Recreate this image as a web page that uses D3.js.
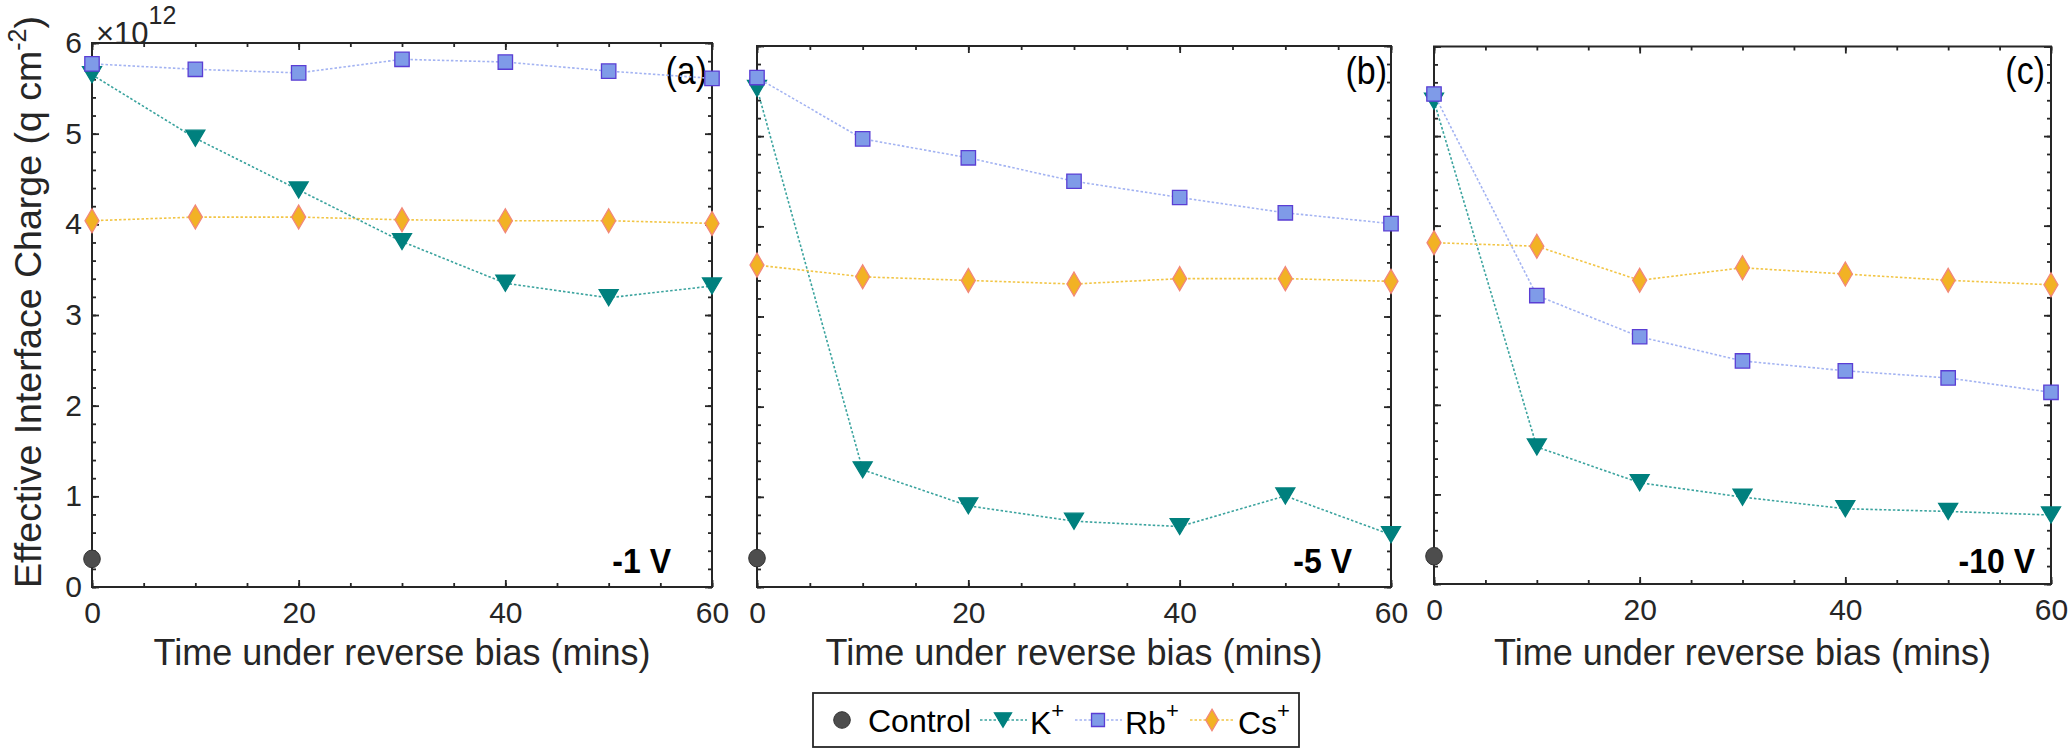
<!DOCTYPE html>
<html>
<head>
<meta charset="UTF-8">
<script src="https://d3js.org/d3.v7.min.js"></script>
<style>
    html, body { margin:0; padding:0; background:#fff; }
    text { font-family: "Liberation Sans", Arial, sans-serif; fill:#262626; }
</style>
</head>
<body>
<svg id="chart" width="2070" height="749"></svg>
<script>
// data (charge in units of 1e12 q cm^-2)
const times = [0, 10, 20, 30, 40, 50, 60];
const controlVals = [0.31, 0.32, 0.31];
const kVals = [
    [5.65, 4.95, 4.38, 3.81, 3.35, 3.19, 3.32],
    [5.53, 1.30, 0.90, 0.73, 0.67, 1.01, 0.58],
    [5.39, 1.53, 1.13, 0.97, 0.84, 0.81, 0.77]
];
const rbVals = [
    [5.77, 5.71, 5.67, 5.82, 5.79, 5.69, 5.61],
    [5.65, 4.97, 4.76, 4.50, 4.32, 4.15, 4.03],
    [5.47, 3.22, 2.76, 2.49, 2.38, 2.30, 2.14]
];
const csVals = [
    [4.04, 4.08, 4.08, 4.05, 4.04, 4.04, 4.01],
    [3.57, 3.44, 3.40, 3.36, 3.42, 3.42, 3.39],
    [3.81, 3.77, 3.39, 3.53, 3.46, 3.39, 3.34]
];
const panelLabels = ["(a)", "(b)", "(c)"];
const biasLabels = ["-1 V", "-5 V", "-10 V"];
const xTicks = [0, 20, 40, 60];
const xMinor = d3.range(0, 61, 5);
const yTicks = [0, 1, 2, 3, 4, 5, 6];
const yMinor = d3.range(0, 30.5, 1).map(d => d / 5);

// layout
const panels = [
    {x0: 92,   x1: 712,  y0: 43,   y1: 587, biasX: 671,  labelX: 707},
    {x0: 757,  x1: 1391, y0: 46,   y1: 587, biasX: 1352, labelX: 1387},
    {x0: 1434, x1: 2051, y0: 46.5, y1: 584, biasX: 2035, labelX: 2045}
];

const series = [
    {name: "K",  vals: kVals,  shape: "tri", fill: "#00807e", stroke: "#00807e", line: "#3aa39e"},
    {name: "Rb", vals: rbVals, shape: "sq",  fill: "#7f9be8", stroke: "#5a3ed4", line: "#a3b3f2"},
    {name: "Cs", vals: csVals, shape: "dia", fill: "#f2b224", stroke: "#f2877a", line: "#f2c545"}
];

function shapePath(shape, s) {
    if (shape === "tri") { const w = 9.5 * s, h = 8 * s; return `M${-w},${-h}L${w},${-h}L0,${h}Z`; }
    if (shape === "sq")  { const w = 7.2 * s; return `M${-w},${-w}L${w},${-w}L${w},${w}L${-w},${w}Z`; }
    if (shape === "dia") { const w = 7 * s, h = 12 * s; return `M0,${-h}L${w},0L0,${h}L${-w},0Z`; }
}

const svg = d3.select("#chart");
const axisColor = "#262626";

panels.forEach((p, i) => {
    const x = d3.scaleLinear().domain([0, 60]).range([p.x0, p.x1]);
    const y = d3.scaleLinear().domain([0, 6]).range([p.y1, p.y0]);
    const g = svg.append("g");

    const styleAxis = sel => {
        sel.select(".domain").remove();
        sel.selectAll("line").attr("stroke", axisColor).attr("stroke-width", 1.8);
    };

    // minor ticks
    g.append("g").attr("transform", `translate(0,${p.y1})`)
        .call(d3.axisBottom(x).tickValues(xMinor).tickSizeInner(-4).tickSizeOuter(0).tickFormat(""))
        .call(styleAxis);
    g.append("g").attr("transform", `translate(0,${p.y0})`)
        .call(d3.axisTop(x).tickValues(xMinor).tickSizeInner(-4).tickSizeOuter(0).tickFormat(""))
        .call(styleAxis);
    g.append("g").attr("transform", `translate(${p.x0},0)`)
        .call(d3.axisLeft(y).tickValues(yMinor).tickSizeInner(-4).tickSizeOuter(0).tickFormat(""))
        .call(styleAxis);
    g.append("g").attr("transform", `translate(${p.x1},0)`)
        .call(d3.axisRight(y).tickValues(yMinor).tickSizeInner(-4).tickSizeOuter(0).tickFormat(""))
        .call(styleAxis);

    // major ticks
    const bx = g.append("g").attr("transform", `translate(0,${p.y1})`)
        .call(d3.axisBottom(x).tickValues(xTicks).tickSizeInner(-7).tickSizeOuter(0).tickPadding(15))
        .call(styleAxis);
    bx.selectAll("text").attr("font-size", 30).attr("fill", axisColor)
        .style("font-family", '"Liberation Sans", Arial, sans-serif');
    g.append("g").attr("transform", `translate(0,${p.y0})`)
        .call(d3.axisTop(x).tickValues(xTicks).tickSizeInner(-7).tickSizeOuter(0).tickFormat(""))
        .call(styleAxis);
    const ly = g.append("g").attr("transform", `translate(${p.x0},0)`)
        .call(d3.axisLeft(y).tickValues(yTicks).tickSizeInner(-7).tickSizeOuter(0).tickPadding(10)
            .tickFormat(i === 0 ? d3.format("d") : ""))
        .call(styleAxis);
    ly.selectAll("text").attr("font-size", 30).attr("fill", axisColor)
        .style("font-family", '"Liberation Sans", Arial, sans-serif');
    g.append("g").attr("transform", `translate(${p.x1},0)`)
        .call(d3.axisRight(y).tickValues(yTicks).tickSizeInner(-7).tickSizeOuter(0).tickFormat(""))
        .call(styleAxis);

    g.append("rect")
        .attr("x", p.x0).attr("y", p.y0)
        .attr("width", p.x1 - p.x0).attr("height", p.y1 - p.y0)
        .attr("fill", "none").attr("stroke", axisColor).attr("stroke-width", 2);

    // x title
    g.append("text")
        .attr("x", (p.x0 + p.x1) / 2).attr("y", 665)
        .attr("text-anchor", "middle").attr("font-size", 36)
        .text("Time under reverse bias (mins)");

    // panel letter + bias
    g.append("text")
        .attr("transform", `translate(${p.labelX},84) scale(1,1.12)`)
        .attr("text-anchor", "end").attr("font-size", 34).style("fill", "#000")
        .text(panelLabels[i]);
    g.append("text")
        .attr("transform", `translate(${p.biasX},573) scale(1,1.1)`)
        .attr("text-anchor", "end").attr("font-size", 32).attr("font-weight", "bold")
        .style("fill", "#000")
        .text(biasLabels[i]);

    // control point
    g.append("ellipse")
        .attr("cx", x(0)).attr("cy", y(controlVals[i]))
        .attr("rx", 8.3).attr("ry", 8.8)
        .attr("fill", "#4d4d4d").attr("stroke", "#333").attr("stroke-width", 1);

    series.forEach(s => {
        const pts = times.map((t, j) => [t, s.vals[i][j]]);
        g.append("path")
            .attr("d", d3.line().x(d => x(d[0])).y(d => y(d[1]))(pts))
            .attr("fill", "none").attr("stroke", s.line)
            .attr("stroke-width", 1.6).attr("stroke-dasharray", "2.5,2");
        g.selectAll(null).data(pts).join("path")
            .attr("transform", d => `translate(${x(d[0])},${y(d[1])})`)
            .attr("d", shapePath(s.shape, 1))
            .attr("fill", s.fill).attr("stroke", s.stroke).attr("stroke-width", 1.3);
    });
});

// y axis title
const yt = svg.append("text")
    .attr("transform", `translate(41,302) rotate(-90)`)
    .attr("text-anchor", "middle").attr("font-size", 37.5);
yt.append("tspan").text("Effective Interface Charge (q cm");
yt.append("tspan").attr("font-size", 25).attr("dy", -15).text("-2");
yt.append("tspan").attr("dy", 15).text(")");

// exponent
const ex = svg.append("text").attr("x", 96).attr("y", 44).attr("font-size", 31);
ex.append("tspan").text("\u00d710");
ex.append("tspan").attr("font-size", 25).attr("dy", -20).text("12");

// legend
const lg = svg.append("g");
lg.append("rect").attr("x", 813).attr("y", 693).attr("width", 486).attr("height", 54)
    .attr("fill", "#fff").attr("stroke", axisColor).attr("stroke-width", 1.8);
const ly0 = 720;
lg.append("circle").attr("cx", 842).attr("cy", ly0).attr("r", 8.3)
    .attr("fill", "#4d4d4d").attr("stroke", "#333");
lg.append("text").attr("x", 868).attr("y", 732).attr("font-size", 32).style("fill", "#000").text("Control");
const legendPos = [
    {l0: 980, l1: 1027, m: 1003, tx: 1030},
    {l0: 1075, l1: 1122, m: 1098, tx: 1125},
    {l0: 1190, l1: 1234, m: 1212, tx: 1238}
];
series.forEach((s, k) => {
    const lp = legendPos[k];
    lg.append("line").attr("x1", lp.l0).attr("x2", lp.l1).attr("y1", ly0).attr("y2", ly0)
        .attr("stroke", s.line).attr("stroke-width", 1.6).attr("stroke-dasharray", "2.5,2");
    lg.append("path").attr("transform", `translate(${lp.m},${ly0})`)
        .attr("d", shapePath(s.shape, 0.9))
        .attr("fill", s.fill).attr("stroke", s.stroke).attr("stroke-width", 1.3);
    const t = lg.append("text").attr("x", lp.tx).attr("y", 734).attr("font-size", 32).style("fill", "#000");
    t.append("tspan").text(s.name);
    t.append("tspan").attr("font-size", 22).attr("dy", -16).text("+");
});
</script>
</body>
</html>
